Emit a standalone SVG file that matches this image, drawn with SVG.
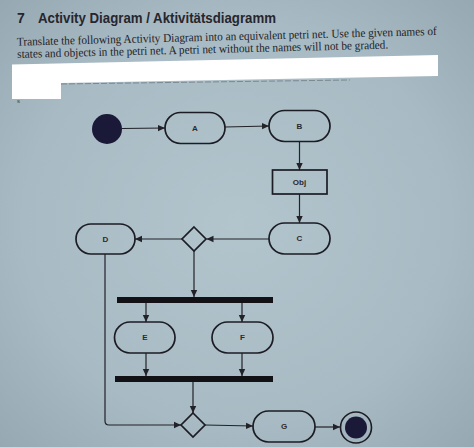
<svg xmlns="http://www.w3.org/2000/svg" width="474" height="447" viewBox="0 0 474 447">
<style>
.node{fill:none;stroke:#1c1c24;stroke-width:1.7}
.lbl{font-family:"Liberation Sans",Arial,sans-serif;font-weight:bold;font-size:8px;fill:#2a2a30;text-anchor:middle;dominant-baseline:central}
.edge{fill:none;stroke:#222228;stroke-width:1.2;marker-end:url(#arr)}
.bar{fill:#111116}
.body{font-family:"Liberation Serif","Times New Roman",serif;font-size:12px;fill:#1e1e26}
</style>
<defs>
<radialGradient id="bg" cx="0.5" cy="0.5" r="0.75">
<stop offset="0" stop-color="#b2c4cc"/>
<stop offset="0.6" stop-color="#a8bac3"/>
<stop offset="1" stop-color="#93a6b0"/>
</radialGradient>
<marker id="arr" markerWidth="8" markerHeight="8" refX="7" refY="4" orient="auto" markerUnits="userSpaceOnUse">
<path d="M0,0.8 L7,4 L0,7.2 Z" fill="#222228"/>
</marker>
</defs>
<rect width="474" height="447" fill="url(#bg)"/>
<g id="header">
<text x="17" y="23" font-family="Liberation Sans,Arial,sans-serif" font-weight="bold" font-size="14" fill="#26262e">7</text>
<text x="38" y="23" font-family="Liberation Sans,Arial,sans-serif" font-weight="bold" font-size="14" fill="#26262e" textLength="238" lengthAdjust="spacingAndGlyphs">Activity Diagram / Aktivitätsdiagramm</text>
<g transform="rotate(-1.46 17 45.7)">
<text class="body" x="17" y="45.7" textLength="420" lengthAdjust="spacingAndGlyphs">Translate the following Activity Diagram into an equivalent petri net. Use the given names of</text>
<text class="body" x="17" y="58" textLength="371" lengthAdjust="spacingAndGlyphs">states and objects in the petri net. A petri net without the names will not be graded.</text>
</g>
<line x1="61" y1="84" x2="350" y2="80" stroke="#5a6770" stroke-width="1" stroke-dasharray="6 2" opacity="0.6"/>
<polygon points="12,64.5 438,55 438,76 61,83 61,99 12,99" fill="#ffffff"/>
<text x="17" y="103" font-family="Liberation Sans,Arial,sans-serif" font-size="6" fill="#444">s</text>
</g>
<g id="connectors">
<line class="edge" x1="122" y1="128.5" x2="165" y2="128"/>
<line class="edge" x1="225" y1="127" x2="269" y2="126"/>
<line class="edge" x1="299.5" y1="141" x2="299.5" y2="170"/>
<line class="edge" x1="299.5" y1="194" x2="299.5" y2="223"/>
<line class="edge" x1="269" y1="239" x2="206.5" y2="239"/>
<line class="edge" x1="182" y1="239" x2="135" y2="239"/>
<line class="edge" x1="194" y1="251" x2="194" y2="297"/>
<line class="edge" x1="146" y1="303" x2="146" y2="322"/>
<line class="edge" x1="242" y1="303" x2="242" y2="322"/>
<line class="edge" x1="146" y1="353" x2="146" y2="376"/>
<line class="edge" x1="242" y1="353" x2="242" y2="376"/>
<line class="edge" x1="193" y1="382" x2="193" y2="413"/>
<path class="edge" d="M105,254 V421 Q105,425 109,425 H181"/>
<line class="edge" x1="205" y1="425" x2="253" y2="426"/>
<line class="edge" x1="315" y1="427" x2="340" y2="427"/>
</g>
<g id="initial"><circle cx="107" cy="129" r="15" fill="#1a1a38"/></g>
<g id="A"><rect class="node" x="165" y="112.5" width="60" height="31" rx="15.5"/><text class="lbl" x="195" y="128">A</text></g>
<g id="B"><rect class="node" x="269" y="110.5" width="61" height="31" rx="15.5"/><text class="lbl" x="299.5" y="126">B</text></g>
<g id="Obj"><rect class="node" x="272.5" y="170" width="54.5" height="24" stroke-width="1.3"/><text class="lbl" x="299.5" y="182">Obj</text></g>
<g id="C"><rect class="node" x="269" y="223" width="61" height="31" rx="15.5"/><text class="lbl" x="299.5" y="238.5">C</text></g>
<g id="decision1"><polygon class="node" points="194,227 206,239 194,251 182,239"/></g>
<g id="D"><rect class="node" x="76" y="224" width="59" height="30" rx="15"/><text class="lbl" x="105.5" y="239">D</text></g>
<g id="fork"><rect class="bar" x="117" y="297" width="156" height="6"/></g>
<g id="E"><rect class="node" x="114.5" y="322" width="60.5" height="31" rx="15.5"/><text class="lbl" x="145" y="337.5">E</text></g>
<g id="F"><rect class="node" x="212" y="322" width="61" height="31" rx="15.5"/><text class="lbl" x="242.5" y="337.5">F</text></g>
<g id="join"><rect class="bar" x="115" y="376" width="158" height="6"/></g>
<g id="decision2"><polygon class="node" points="193,413 205,425 193,437 181,425"/></g>
<g id="G"><rect class="node" x="253" y="411" width="62" height="31" rx="15.5"/><text class="lbl" x="284" y="426.5">G</text></g>
<g id="final"><circle cx="356" cy="427.5" r="15.5" fill="none" stroke="#1c1c24" stroke-width="1.6"/><circle cx="356" cy="427.5" r="11" fill="#1a1a38"/></g>
</svg>
